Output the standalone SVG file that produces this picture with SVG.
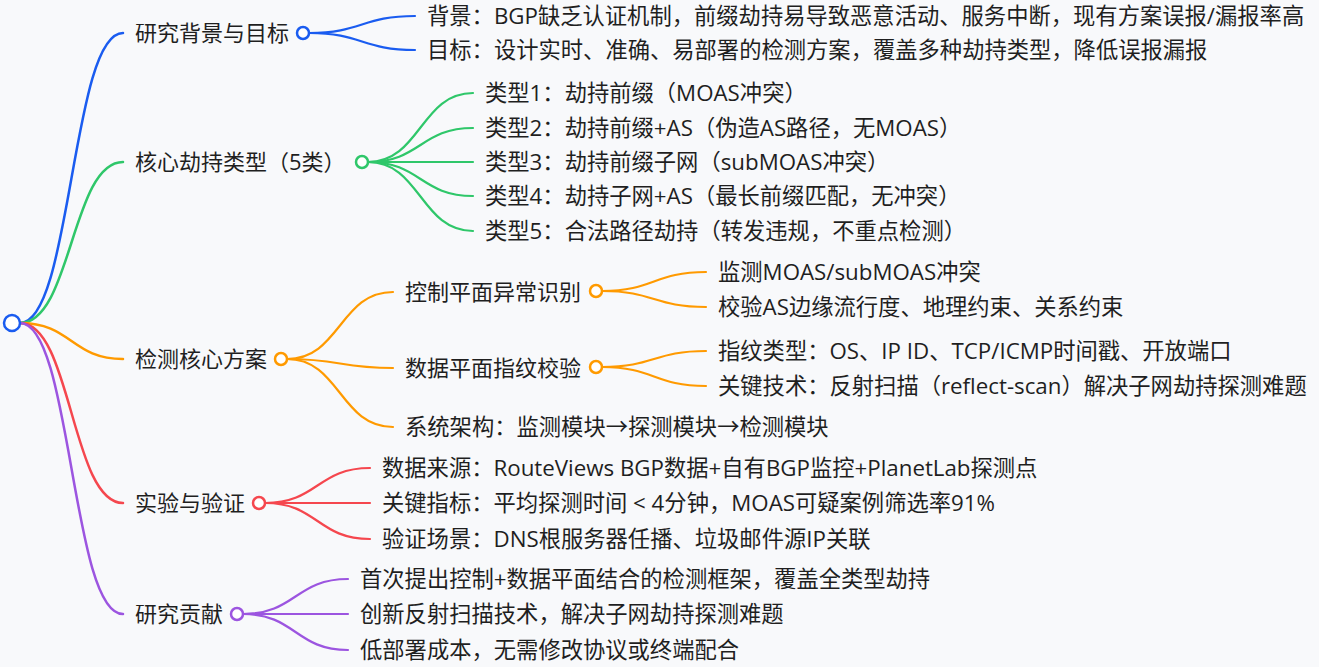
<svg xmlns="http://www.w3.org/2000/svg" width="1319" height="667" viewBox="0 0 1319 667">
<style>
text{font-family:"Open Sans","Noto Sans CJK SC",sans-serif;font-size:22px;fill:#1f1f1f}
.l{font-size:22.3px}
.e{fill:none;stroke-width:2.2;stroke-linecap:round}
.e1{fill:none;stroke-width:2.5;stroke-linecap:round}
.c{fill:#ffffff;stroke-width:2.5}
.b{stroke:#1a5cf0}.g{stroke:#2fc76a}.o{stroke:#ff9a00}.r{stroke:#f5474e}.p{stroke:#9c55e0}
</style>
<rect width="1319" height="667" fill="#f8f9fb"/>
<g id="connectors">
<path class="e1 b" d="M20,323 C71.5,323 71.5,33 123,33"/>
<path class="e1 g" d="M20,323 C71.5,323 71.5,162 123,162"/>
<path class="e1 o" d="M20,323 C71.5,323 71.5,359 123,359"/>
<path class="e1 r" d="M20,323 C71.5,323 71.5,503 123,503"/>
<path class="e1 p" d="M20,323 C71.5,323 71.5,614 123,614"/>
<path class="e b" d="M309,33 C362,33 362,16 415,16"/>
<path class="e b" d="M309,33 C362,33 362,50 415,50"/>
<path class="e g" d="M368,162 C420.5,162 420.5,93 473,93"/>
<path class="e g" d="M368,162 C420.5,162 420.5,128 473,128"/>
<path class="e g" d="M368,162 C420.5,162 420.5,162 473,162"/>
<path class="e g" d="M368,162 C420.5,162 420.5,196 473,196"/>
<path class="e g" d="M368,162 C420.5,162 420.5,231 473,231"/>
<path class="e o" d="M287,359 C340,359 340,292 393,292"/>
<path class="e o" d="M287,359 C340,359 340,368 393,368"/>
<path class="e o" d="M287,359 C340,359 340,427 393,427"/>
<path class="e o" d="M602,291 C654,291 654,272 706,272"/>
<path class="e o" d="M602,291 C654,291 654,307 706,307"/>
<path class="e o" d="M602,367 C654,367 654,351 706,351"/>
<path class="e o" d="M602,367 C654,367 654,386 706,386"/>
<path class="e r" d="M265,503 C317.5,503 317.5,468 370,468"/>
<path class="e r" d="M265,503 C317.5,503 317.5,503 370,503"/>
<path class="e r" d="M265,503 C317.5,503 317.5,539 370,539"/>
<path class="e p" d="M243,614 C295.5,614 295.5,579 348,579"/>
<path class="e p" d="M243,614 C295.5,614 295.5,614 348,614"/>
<path class="e p" d="M243,614 C295.5,614 295.5,650 348,650"/>
</g>
<g id="root"><circle class="c b" cx="12" cy="323" r="8"/></g>
<g id="n1"><text x="135" y="41">研究背景与目标</text><circle class="c b" cx="303" cy="33" r="6"/></g>
<g id="n1a"><text class="l" x="427" y="24">背景：BGP缺乏认证机制，前缀劫持易导致恶意活动、服务中断，现有方案误报/漏报率高</text></g>
<g id="n1b"><text class="l" x="427" y="58">目标：设计实时、准确、易部署的检测方案，覆盖多种劫持类型，降低误报漏报</text></g>
<g id="n2"><text x="135" y="170">核心劫持类型（5类）</text><circle class="c g" cx="362" cy="162" r="6"/></g>
<g id="n2a"><text class="l" x="485" y="101">类型1：劫持前缀（MOAS冲突）</text></g>
<g id="n2b"><text class="l" x="485" y="136">类型2：劫持前缀+AS（伪造AS路径，无MOAS）</text></g>
<g id="n2c"><text class="l" x="485" y="170">类型3：劫持前缀子网（subMOAS冲突）</text></g>
<g id="n2d"><text class="l" x="485" y="204">类型4：劫持子网+AS（最长前缀匹配，无冲突）</text></g>
<g id="n2e"><text class="l" x="485" y="239">类型5：合法路径劫持（转发违规，不重点检测）</text></g>
<g id="n3"><text x="135" y="367">检测核心方案</text><circle class="c o" cx="281" cy="359" r="6"/></g>
<g id="n3a"><text x="405" y="300">控制平面异常识别</text><circle class="c o" cx="596" cy="291" r="6"/></g>
<g id="n3a1"><text class="l" x="718" y="280">监测MOAS/subMOAS冲突</text></g>
<g id="n3a2"><text class="l" x="718" y="315">校验AS边缘流行度、地理约束、关系约束</text></g>
<g id="n3b"><text x="405" y="376">数据平面指纹校验</text><circle class="c o" cx="596" cy="367" r="6"/></g>
<g id="n3b1"><text class="l" x="718" y="359">指纹类型：OS、IP ID、TCP/ICMP时间戳、开放端口</text></g>
<g id="n3b2"><text class="l" x="718" y="394">关键技术：反射扫描（reflect-scan）解决子网劫持探测难题</text></g>
<g id="n3c"><text class="l" x="405" y="435">系统架构：监测模块→探测模块→检测模块</text></g>
<g id="n4"><text x="135" y="511">实验与验证</text><circle class="c r" cx="259" cy="503" r="6"/></g>
<g id="n4a"><text class="l" x="382" y="476">数据来源：RouteViews BGP数据+自有BGP监控+PlanetLab探测点</text></g>
<g id="n4b"><text class="l" x="382" y="511">关键指标：平均探测时间 &lt; 4分钟，MOAS可疑案例筛选率91%</text></g>
<g id="n4c"><text class="l" x="382" y="547">验证场景：DNS根服务器任播、垃圾邮件源IP关联</text></g>
<g id="n5"><text x="135" y="622">研究贡献</text><circle class="c p" cx="237" cy="614" r="6"/></g>
<g id="n5a"><text class="l" x="360" y="587">首次提出控制+数据平面结合的检测框架，覆盖全类型劫持</text></g>
<g id="n5b"><text class="l" x="360" y="622">创新反射扫描技术，解决子网劫持探测难题</text></g>
<g id="n5c"><text class="l" x="360" y="658">低部署成本，无需修改协议或终端配合</text></g>
</svg>
